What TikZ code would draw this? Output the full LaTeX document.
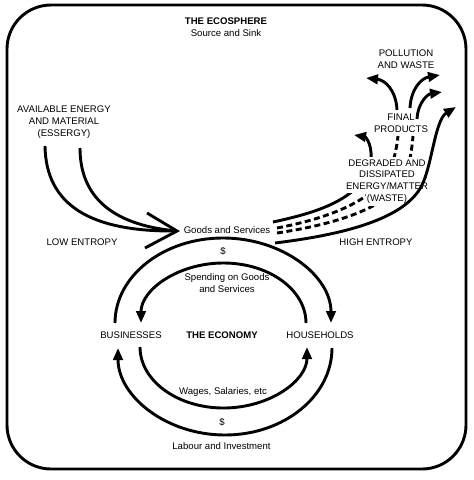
\documentclass[tikz,border=0pt]{standalone}
\usepackage{fontspec}
\setmainfont{Liberation Sans}
\usetikzlibrary{arrows.meta,calc}
\begin{document}
\begin{tikzpicture}[x=1pt,y=-1pt,
  lab/.style={font=\fontsize{9.6}{12}\selectfont, inner sep=0pt, align=center},
  wb/.style={fill=white, inner sep=1pt, text height=8pt, text depth=3pt},
  flow/.style={line width=2.9pt},
  dflow/.style={line width=2.9pt, dash pattern=on 6pt off 3.5pt},
  tipA/.style={-{Triangle[length=12pt,width=9.5pt]}}]
\useasboundingbox (0,0) rectangle (474,480);
% frame
\draw[flow, rounded corners=44pt] (7,5) rectangle (466,469);

% text labels
\node[lab] (eco) at (226,27) {\textbf{THE ECOSPHERE}\\Source and Sink};
\node[lab] (poll) at (406,59) {POLLUTION\\AND WASTE};
\node[lab] (fin) at (401,123) {FINAL\\PRODUCTS};
\node[lab] (avail) at (64,122.5) {AVAILABLE ENERGY\\AND MATERIAL\\(ESSERGY)};
\node[lab] (gs) at (227,230) {Goods and Services};
\node[lab] (low) at (82,242) {LOW ENTROPY};
\node[lab] (high) at (376,242) {HIGH ENTROPY};
\node[lab] (d1) at (223,251) {\$};
\node[lab] (spend) at (227,283.5) {Spending on Goods\\and Services};
\node[lab] (bus) at (131,335) {BUSINESSES};
\node[lab] (econ) at (222,335) {\textbf{THE ECONOMY}};
\node[lab] (house) at (320,335) {HOUSEHOLDS};
\node[lab] (wages) at (223,392) {Wages, Salaries, etc};
\node[lab] (d2) at (222,422) {\$};
\node[lab] (labour) at (221.5,446) {Labour and Investment};

% economy circuit
\coordinate (uoS) at (115,323);
\coordinate (uiS) at (306,323);
\coordinate (liS) at (140,347);
\coordinate (loS) at (332,348);
\draw[flow,tipA] (uoS) arc[start angle=180,end angle=360,x radius=108,y radius=85];
\draw[flow,tipA] (uiS) arc[start angle=0,end angle=-180,x radius=82.5,y radius=60];
\draw[flow,tipA] (liS) arc[start angle=180,end angle=0,x radius=83.5,y radius=61];
\draw[flow,tipA] (loS) arc[start angle=0,end angle=180,x radius=107,y radius=87];

% inputs
\coordinate (gsin) at (177,231);
\coordinate (av1) at (45,146);
\coordinate (av2) at (80,148);
\draw[flow] (av1) .. controls (46,205) and (90,232) .. (gsin);
\draw[flow] (av2) .. controls (80,195) and (110,225) .. (gsin);
\draw[flow] ($(gsin)+(-30,-18)$) -- (gsin) -- ($(gsin)+(-32,17)$);

% outputs
\coordinate (gsA) at (273,222);
\coordinate (gsB) at (277,228);
\coordinate (gsC) at (277,233);
\coordinate (gsE) at (275,243);
\draw[flow,tipA] (gsA) .. controls (315,213) and (360,200) .. (370,165) .. controls (374,147) and (366,137) .. (354,135);
\draw[dflow] (gsB) .. controls (330,218) and (375,200) .. (390,170) .. controls (395,158) and (397,145) .. (398,136);
\draw[dflow] (gsC) .. controls (330,225) and (385,210) .. (403,180) .. controls (410,165) and (412,148) .. (413,136);
\node[lab,wb] (deg1) at (387,163.5) {DEGRADED AND};
\node[lab,wb] (deg2) at (387,175) {DISSIPATED};
\node[lab,wb] (deg3) at (387,186.5) {ENERGY/MATTER};
\node[lab,wb] (deg4) at (387,199) {(WASTE)};
\draw[flow,tipA] (gsE) .. controls (340,235) and (405,220) .. (422,185) .. controls (432,165) and (435,120) .. (456,107);

\coordinate (fpL) at (397,110);
\coordinate (fpR) at (410,108);
\coordinate (fpD) at (417,119);
\draw[flow,tipA] (fpL) .. controls (396,90) and (385,80) .. (366,78);
\draw[flow,tipA] (fpR) .. controls (411,88) and (422,78) .. (440,75);
\draw[flow,tipA] (fpD) .. controls (418,102) and (428,94) .. (442,92);
\end{tikzpicture}
\end{document}
